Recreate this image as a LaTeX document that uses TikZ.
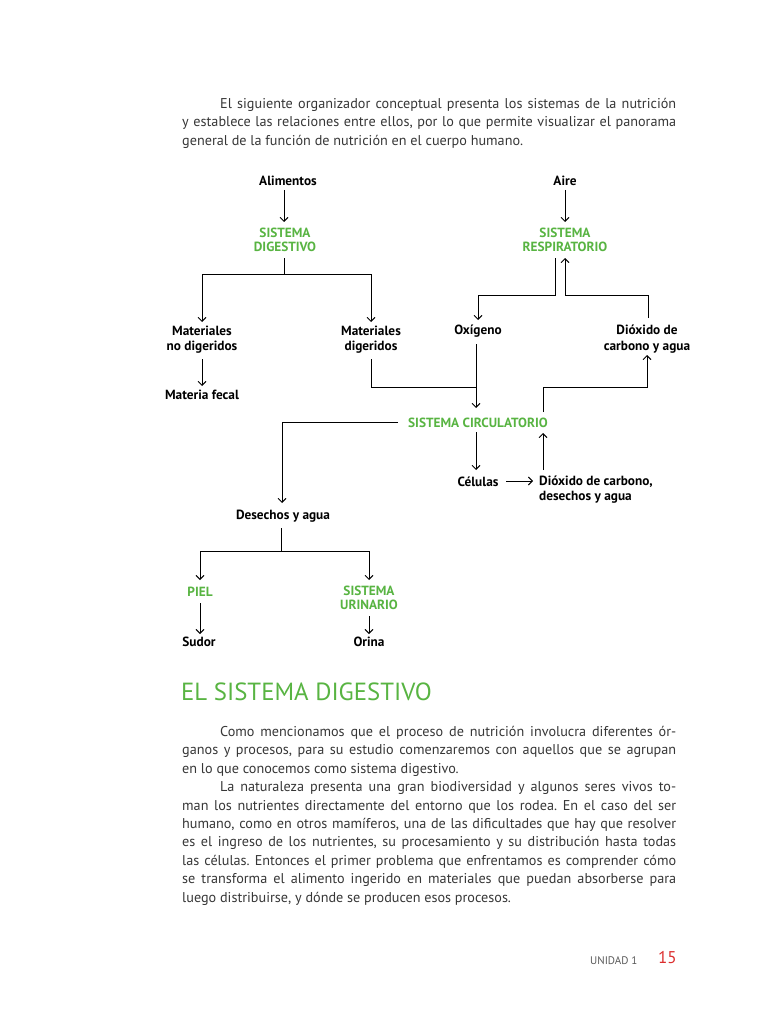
\documentclass[tikz,border=0pt]{standalone}
\usepackage{fontspec}
\setmainfont{PT Sans}
\usetikzlibrary{arrows.meta}
\definecolor{vgreen}{RGB}{88,180,66}
\definecolor{vred}{RGB}{220,45,45}
\definecolor{vtext}{RGB}{55,55,55}
\definecolor{vgray}{RGB}{90,90,90}
\frenchspacing
\begin{document}
\begin{tikzpicture}[x=1pt,y=-1pt,
  lbl/.style={font=\fontsize{13.3}{15.5}\selectfont\bfseries, text=black, align=center, inner sep=0pt},
  sys/.style={font=\fontsize{13.3}{14.5}\selectfont\bfseries, text=vgreen, align=center, inner sep=0pt},
  arr/.style={draw=black, line width=0.9pt, -{Straight Barb[length=4pt,width=8pt]}},
  ln/.style={draw=black, line width=0.9pt},
  para/.style={font=\fontsize{14.2}{18.4}\selectfont, text=vtext, text width=494pt, align=justify, inner sep=0pt, anchor=north west}]
\fill[white] (0,0) rectangle (768,1024);
\useasboundingbox (0,0) rectangle (768,1024);

\node[para] (p1) at (182,98) {\hspace*{38pt}El siguiente organizador conceptual presenta los sistemas de la nutrición\linebreak y establece las relaciones entre ellos, por lo que permite visualizar el panorama\linebreak general de la función de nutrición en el cuerpo humano.};

% nodes
\node[lbl] (ali) at (288,181) {Alimentos};
\node[sys] (sd) at (285,240) {SISTEMA\\DIGESTIVO};
\node[lbl] (mnd) at (202,339.5) {Materiales\\no digeridos};
\node[lbl] (md) at (371,339.5) {Materiales\\digeridos};
\node[lbl] (mf) at (202,395) {Materia fecal};
\node[lbl] (aire) at (565,181) {Aire};
\node[sys] (sr) at (565,240) {SISTEMA\\RESPIRATORIO};
\node[lbl] (oxi) at (478,331) {Oxígeno};
\node[lbl] (dca) at (647,339) {Dióxido de\\carbono y agua};
\node[sys] (sc) at (478,423) {SISTEMA CIRCULATORIO};
\node[lbl] (cel) at (478,482) {Células};
\node[lbl, align=left, anchor=west] (dcd) at (539,489.5) {Dióxido de carbono,\\desechos y agua};
\node[lbl] (dya) at (283,516) {Desechos y agua};
\node[sys] (piel) at (200,592) {PIEL};
\node[sys] (su) at (369,598) {SISTEMA\\URINARIO};
\node[lbl] (sud) at (199,642) {Sudor};
\node[lbl] (ori) at (369,642) {Orina};

\coordinate (jd) at (284,274);
\coordinate (jr1) at (555,295);
\coordinate (jr2) at (565,295);
\coordinate (jm) at (476,387);
\coordinate (jc) at (543,387);
\coordinate (jdy) at (281,551);

% connectors
\draw[arr] (284,190) -- (284,222);
\draw[ln] (284,258) -- (jd);
\draw[arr] (jd) -| (202,322);
\draw[arr] (jd) -| (371,322);
\draw[arr] (202,359) -- (202,386);
\draw[ln] (371,359) |- (jm);
\draw[arr] (565,190) -- (565,222);
\draw[arr] (555,258) -- (jr1) -| (478,320);
\draw[arr] (648,318) -- (648,295) -| (565,258);
\draw[arr] (476,344) -- (476,408);
\draw[arr] (543,412) -- (jc) -| (647,355);
\draw[arr] (398,422) -| (282,503);
\draw[arr] (476,432) -- (476,470);
\draw[arr] (506,481) -- (533,481);
\draw[arr] (543,470) -- (543,433);
\draw[ln] (281,528) -- (jdy);
\draw[arr] (jdy) -| (200,580);
\draw[arr] (jdy) -| (369,580);
\draw[arr] (200,603) -- (200,634);
\draw[arr] (369,616) -- (369,634);

% heading
\node[font=\fontsize{24.8}{28}\selectfont, text=vgreen, anchor=west, inner sep=0pt] (h) at (181,692) {EL SISTEMA DIGESTIVO};

\node[para] (p2) at (182,726) {\hspace*{38pt}Como mencionamos que el proceso de nutrición involucra diferentes ór-\linebreak ganos y procesos, para su estudio comenzaremos con aquellos que se agrupan\linebreak en lo que conocemos como sistema digestivo.\par
\hspace*{38pt}La naturaleza presenta una gran biodiversidad y algunos seres vivos to-\linebreak man los nutrientes directamente del entorno que los rodea. En el caso del ser\linebreak humano, como en otros mamíferos, una de las dificultades que hay que resolver\linebreak es el ingreso de los nutrientes, su procesamiento y su distribución hasta todas\linebreak las células. Entonces el primer problema que enfrentamos es comprender cómo\linebreak se transforma el alimento ingerido en materiales que puedan absorberse para\linebreak luego distribuirse, y dónde se producen esos procesos.};

% footer
\node[font=\fontsize{11}{12}\selectfont, text=vgray, anchor=west, inner sep=0pt] (un) at (590,961) {UNIDAD 1};
\node[font=\fontsize{17}{20}\selectfont, text=vred, anchor=west, inner sep=0pt] (pg) at (658,958) {15};
\end{tikzpicture}
\end{document}
